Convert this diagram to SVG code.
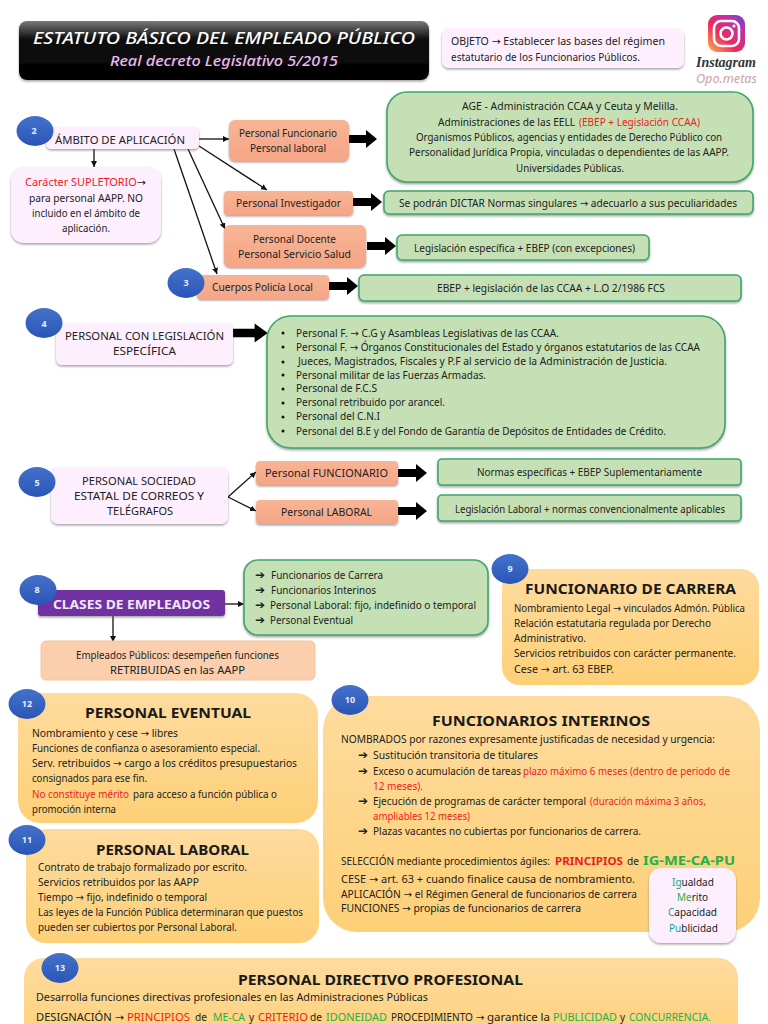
<svg xmlns="http://www.w3.org/2000/svg" width="768" height="1024" viewBox="0 0 768 1024">
<style>
text{font-family:"Noto Sans","DejaVu Sans",sans-serif;font-size:10px;fill:#222}
.r{fill:#f01c1c}.g{fill:#22b04a}.tl{fill:#12a878}
.h{font-size:15px;font-weight:700;fill:#1a1a1a}
.n{font-size:9px;font-weight:700;fill:#e6ecfa;text-anchor:middle}
.bx{filter:url(#sh)}
.green{fill:#c5e0b4;stroke:#3fa76d;stroke-width:1.6}
.pink{fill:#fdeffd}
.sal{fill:url(#sal)}
.peach{fill:#fbcfae;stroke:#f4c4a0;stroke-width:1}
.gold{fill:url(#gold)}
.dot{fill:url(#blue)}
.ln{stroke:#111;stroke-width:1.3;fill:none;marker-end:url(#ah)}
.ar{font-family:"DejaVu Sans",sans-serif;font-size:12px;font-weight:700}
</style>
<defs>
<filter id="sh" x="-5%" y="-10%" width="110%" height="125%"><feDropShadow dx="0" dy="1.5" stdDeviation="1.2" flood-color="#555" flood-opacity=".55"/></filter>
<linearGradient id="sal" x1="0" y1="0" x2="0" y2="1"><stop offset="0" stop-color="#f7b595"/><stop offset="1" stop-color="#f5a586"/></linearGradient>
<linearGradient id="gold" x1="0" y1="0" x2="0" y2="1"><stop offset="0" stop-color="#fedb9e"/><stop offset="1" stop-color="#fdd078"/></linearGradient>
<linearGradient id="blue" x1="0" y1="0" x2="0" y2="1"><stop offset="0" stop-color="#4472c9"/><stop offset="1" stop-color="#2a55b8"/></linearGradient>
<linearGradient id="blk" x1="0" y1="0" x2="0" y2="1"><stop offset="0" stop-color="#7a7a7a"/><stop offset=".3" stop-color="#111"/><stop offset="1" stop-color="#000"/></linearGradient>
<linearGradient id="ig" x1="0" y1="1" x2="1" y2="0"><stop offset="0" stop-color="#fdb348"/><stop offset=".4" stop-color="#ee2a5c"/><stop offset=".75" stop-color="#c02fa8"/><stop offset="1" stop-color="#5b4fd0"/></linearGradient>
<marker id="ah" markerUnits="userSpaceOnUse" markerWidth="7" markerHeight="7" refX="6" refY="3" orient="auto"><path d="M0,0 L6,3 L0,6Z" fill="#111"/></marker>
<path id="block" d="M0,-4 H18 V-9 L29,0 L18,9 V4 H0Z" fill="#000"/>
</defs>
<rect width="768" height="1024" fill="#fff"/>

<g id="title"><rect class="bx" x="19" y="21" width="410" height="59" rx="8" fill="url(#blk)"/>
<text x="33" y="44" textLength="382" lengthAdjust="spacingAndGlyphs" style="font-size:17px;font-style:italic;fill:#fff;font-weight:500">ESTATUTO BÁSICO DEL EMPLEADO PÚBLICO</text>
<text x="110" y="66" textLength="228" lengthAdjust="spacingAndGlyphs" style="font-size:14.5px;font-style:italic;fill:#eab9ee;font-weight:500">Real decreto Legislativo 5/2015</text></g>

<g id="objeto"><rect class="bx pink" x="442" y="28" width="242" height="40" rx="7"/>
<text x="451" y="45" textLength="214" lengthAdjust="spacingAndGlyphs">OBJETO → Establecer las bases del régimen</text>
<text x="451" y="61" textLength="189" lengthAdjust="spacingAndGlyphs">estatutario de los Funcionarios Públicos.</text></g>

<g id="instagram"><rect x="708" y="15" width="37" height="37" rx="9" fill="url(#ig)"/>
<rect x="714" y="21" width="25" height="25" rx="7" fill="none" stroke="#fff" stroke-width="2.6"/>
<circle cx="726.5" cy="33.5" r="6" fill="none" stroke="#fff" stroke-width="2.6"/><circle cx="734" cy="26" r="1.6" fill="#fff"/>
<text x="696" y="67" textLength="60" lengthAdjust="spacingAndGlyphs" style="font-family:'Liberation Serif',serif;font-size:15px;font-style:italic;font-weight:700;fill:#333">Instagram</text>
<text x="696" y="83" textLength="61" lengthAdjust="spacingAndGlyphs" style="font-size:13px;font-style:italic;fill:#c9a2ac">Opo.metas</text></g>

<g id="connectors">
<path class="ln" d="M199,139 H229"/><path class="ln" d="M94,149 V167"/><path class="ln" d="M199,146 L267,190"/><path class="ln" d="M188,149 L225,229"/><path class="ln" d="M174,149 L217,274"/>
<path class="ln" d="M228,497 L256,472"/><path class="ln" d="M228,497 L256,511"/><path class="ln" d="M225,604 H244"/><path class="ln" d="M113,616 V642"/>
<use href="#block" x="348" y="139"/><use href="#block" x="353" y="202"/><use href="#block" x="367" y="246"/><use href="#block" x="329" y="286"/>
<use href="#block" transform="translate(233,333) scale(1.2,1.05)"/><use href="#block" x="398" y="473"/><use href="#block" x="398" y="511"/>
</g>

<g id="n-ambito"><rect class="bx pink" x="46" y="127" width="153" height="22" rx="5"/><text x="55" y="144" textLength="130" lengthAdjust="spacingAndGlyphs">ÁMBITO DE APLICACIÓN</text>
<ellipse class="dot" cx="35" cy="131" rx="18.5" ry="15"/><text class="n" x="34" y="134">2</text></g>

<g id="n-supletorio"><rect class="bx pink" x="11" y="167" width="150" height="76" rx="13"/>
<text x="25" y="186" textLength="121" lengthAdjust="spacingAndGlyphs"><tspan class="r">Carácter SUPLETORIO</tspan>→</text>
<text x="29" y="202" textLength="114" lengthAdjust="spacingAndGlyphs">para personal AAPP. NO</text>
<text x="32" y="217" textLength="108" lengthAdjust="spacingAndGlyphs">incluido en el ámbito de</text>
<text x="62" y="232" textLength="48" lengthAdjust="spacingAndGlyphs">aplicación.</text></g>

<g id="n-funcionario"><rect class="bx sal" x="229" y="120" width="120" height="41" rx="6"/><text x="239" y="137" textLength="98" lengthAdjust="spacingAndGlyphs">Personal Funcionario</text><text x="250" y="152" textLength="76" lengthAdjust="spacingAndGlyphs">Personal laboral</text></g>
<g id="n-investigador"><rect class="bx sal" x="224" y="191" width="129" height="24" rx="4"/><text x="236" y="207" textLength="105" lengthAdjust="spacingAndGlyphs">Personal Investigador</text></g>
<g id="n-docente"><rect class="bx sal" x="224" y="225" width="142" height="42" rx="6"/><text x="253" y="243" textLength="83" lengthAdjust="spacingAndGlyphs">Personal Docente</text><text x="238" y="258" textLength="113" lengthAdjust="spacingAndGlyphs">Personal Servicio Salud</text></g>
<g id="n-policia"><rect class="bx sal" x="197" y="275" width="132" height="24" rx="4"/><text x="212" y="291" textLength="101" lengthAdjust="spacingAndGlyphs">Cuerpos Policía Local</text>
<ellipse class="dot" cx="186" cy="283" rx="18.5" ry="15"/><text class="n" x="186" y="286">3</text></g>

<g id="n-age"><rect class="bx green" x="387" y="92" width="366" height="90" rx="20"/>
<text x="462" y="110" textLength="216" lengthAdjust="spacingAndGlyphs">AGE -  Administración CCAA y Ceuta y Melilla.</text>
<text x="438" y="126"><tspan textLength="137" lengthAdjust="spacingAndGlyphs">Administraciones de las EELL</tspan><tspan class="r" x="579" textLength="121" lengthAdjust="spacingAndGlyphs">(EBEP + Legislación CCAA)</tspan></text>
<text x="416" y="141" textLength="306" lengthAdjust="spacingAndGlyphs">Organismos Públicos, agencias y entidades de Derecho Público con</text>
<text x="409" y="156" textLength="320" lengthAdjust="spacingAndGlyphs">Personalidad Jurídica Propia, vinculadas o dependientes de las AAPP.</text>
<text x="516" y="172" textLength="108" lengthAdjust="spacingAndGlyphs">Universidades Públicas.</text></g>
<g id="n-dictar"><rect class="bx green" x="384" y="191" width="369" height="23" rx="5"/><text x="399" y="207" textLength="338" lengthAdjust="spacingAndGlyphs">Se podrán DICTAR Normas singulares → adecuarlo a sus peculiaridades</text></g>
<g id="n-legesp"><rect class="bx green" x="397" y="235" width="252" height="25" rx="5"/><text x="414" y="252" textLength="221" lengthAdjust="spacingAndGlyphs">Legislación específica + EBEP (con excepciones)</text></g>
<g id="n-fcs"><rect class="bx green" x="359" y="275" width="382" height="26" rx="5"/><text x="437" y="292" textLength="228" lengthAdjust="spacingAndGlyphs">EBEP + legislación de las CCAA + L.O 2/1986 FCS</text></g>

<g id="n-4"><rect class="bx pink" x="56" y="323" width="177" height="42" rx="6"/><text x="65" y="340" textLength="159" lengthAdjust="spacingAndGlyphs">PERSONAL CON LEGISLACIÓN</text><text x="113" y="355" textLength="63" lengthAdjust="spacingAndGlyphs">ESPECÍFICA</text>
<ellipse class="dot" cx="44" cy="323" rx="18.5" ry="15"/><text class="n" x="44" y="327">4</text></g>
<g id="n-lista"><rect class="bx green" x="267" y="316" width="458" height="132" rx="24"/>
<g fill="#111"><circle cx="283" cy="333" r="1.5"/><circle cx="283" cy="347" r="1.5"/><circle cx="283" cy="362" r="1.5"/><circle cx="283" cy="375" r="1.5"/><circle cx="283" cy="389" r="1.5"/><circle cx="283" cy="403" r="1.5"/><circle cx="283" cy="417" r="1.5"/><circle cx="283" cy="431" r="1.5"/></g>
<text x="296" y="337" textLength="263" lengthAdjust="spacingAndGlyphs">Personal F. → C.G y Asambleas Legislativas de las CCAA.</text>
<text x="296" y="351" textLength="404" lengthAdjust="spacingAndGlyphs">Personal F. → Órganos Constitucionales del Estado y órganos estatutarios de las CCAA</text>
<text x="298" y="365" textLength="369" lengthAdjust="spacingAndGlyphs">Jueces, Magistrados, Fiscales y P.F al servicio de la Administración de Justicia.</text>
<text x="296" y="379" textLength="190" lengthAdjust="spacingAndGlyphs">Personal militar de las Fuerzas Armadas.</text>
<text x="296" y="392" textLength="81" lengthAdjust="spacingAndGlyphs">Personal de F.C.S</text>
<text x="296" y="406" textLength="149" lengthAdjust="spacingAndGlyphs">Personal retribuido por arancel.</text>
<text x="296" y="420" textLength="84" lengthAdjust="spacingAndGlyphs">Personal del C.N.I</text>
<text x="296" y="435" textLength="370" lengthAdjust="spacingAndGlyphs">Personal del B.E y del Fondo de Garantía de Depósitos de Entidades de Crédito.</text></g>

<g id="n-5"><rect class="bx pink" x="51" y="467" width="177" height="57" rx="7"/>
<text x="82" y="485" textLength="114" lengthAdjust="spacingAndGlyphs">PERSONAL SOCIEDAD</text><text x="74" y="500" textLength="130" lengthAdjust="spacingAndGlyphs">ESTATAL DE CORREOS Y</text><text x="107" y="515" textLength="66" lengthAdjust="spacingAndGlyphs">TELÉGRAFOS</text>
<ellipse class="dot" cx="37" cy="482" rx="18.5" ry="15"/><text class="n" x="37" y="486">5</text></g>
<g id="n-pf"><rect class="bx sal" x="256" y="461" width="142" height="24" rx="4"/><text x="265" y="477" textLength="123" lengthAdjust="spacingAndGlyphs">Personal FUNCIONARIO</text></g>
<g id="n-pl"><rect class="bx sal" x="256" y="500" width="142" height="24" rx="4"/><text x="281" y="516" textLength="91" lengthAdjust="spacingAndGlyphs">Personal LABORAL</text></g>
<g id="n-normas"><rect class="bx green" x="438" y="459" width="303" height="26" rx="4"/><text x="477" y="476" textLength="225" lengthAdjust="spacingAndGlyphs">Normas específicas + EBEP Suplementariamente</text></g>
<g id="n-leglab"><rect class="bx green" x="438" y="495" width="303" height="26" rx="4"/><text x="455" y="513" textLength="270" lengthAdjust="spacingAndGlyphs">Legislación Laboral + normas convencionalmente aplicables</text></g>

<g id="n-8"><rect class="bx" x="38" y="590" width="187" height="26" rx="3" fill="#7030a0"/><text x="53" y="609" textLength="157" lengthAdjust="spacingAndGlyphs" style="font-size:13px;font-weight:700;fill:#f3e6f8">CLASES DE EMPLEADOS</text>
<ellipse class="dot" cx="38" cy="590" rx="18.5" ry="15"/><text class="n" x="37" y="593">8</text></g>
<g id="n-clases"><rect class="bx green" x="244" y="560" width="244" height="75" rx="14"/>
<text class="ar" x="255" y="579">➔</text><text class="ar" x="255" y="594">➔</text><text class="ar" x="255" y="609">➔</text><text class="ar" x="255" y="624">➔</text>
<text x="271" y="579" textLength="112" lengthAdjust="spacingAndGlyphs">Funcionarios de Carrera</text>
<text x="271" y="594" textLength="105" lengthAdjust="spacingAndGlyphs">Funcionarios Interinos</text>
<text x="270" y="609" textLength="206" lengthAdjust="spacingAndGlyphs">Personal Laboral: fijo, indefinido o temporal</text>
<text x="270" y="624" textLength="83" lengthAdjust="spacingAndGlyphs">Personal Eventual</text></g>
<g id="n-empleados"><rect class="peach" x="41" y="641" width="274" height="39" rx="5"/><text x="76" y="659" textLength="203" lengthAdjust="spacingAndGlyphs">Empleados Públicos: desempeñen funciones</text><text x="110" y="674" textLength="135" lengthAdjust="spacingAndGlyphs">RETRIBUIDAS en las AAPP</text></g>

<g id="n-9"><rect class="gold" x="502" y="569" width="257" height="116" rx="18"/>
<text class="h" x="525" y="594" textLength="211" lengthAdjust="spacingAndGlyphs">FUNCIONARIO DE CARRERA</text>
<text x="514" y="612" textLength="231" lengthAdjust="spacingAndGlyphs">Nombramiento Legal → vinculados Admón. Pública</text>
<text x="514" y="627" textLength="197" lengthAdjust="spacingAndGlyphs">Relación estatutaria regulada por Derecho</text>
<text x="514" y="642" textLength="72" lengthAdjust="spacingAndGlyphs">Administrativo.</text>
<text x="514" y="657" textLength="222" lengthAdjust="spacingAndGlyphs">Servicios retribuidos con carácter permanente.</text>
<text x="514" y="673" textLength="100" lengthAdjust="spacingAndGlyphs">Cese → art. 63 EBEP.</text>
<ellipse class="dot" cx="510" cy="569" rx="18.5" ry="15"/><text class="n" x="510" y="572">9</text></g>

<g id="n-12"><rect class="gold" x="18" y="693" width="300" height="130" rx="22"/>
<text class="h" x="85" y="718" textLength="166" lengthAdjust="spacingAndGlyphs">PERSONAL EVENTUAL</text>
<text x="32" y="737" textLength="146" lengthAdjust="spacingAndGlyphs">Nombramiento y cese → libres</text>
<text x="32" y="752" textLength="228" lengthAdjust="spacingAndGlyphs">Funciones de confianza o asesoramiento especial.</text>
<text x="32" y="767" textLength="265" lengthAdjust="spacingAndGlyphs">Serv. retribuidos → cargo a los créditos presupuestarios</text>
<text x="32" y="782" textLength="115" lengthAdjust="spacingAndGlyphs">consignados para ese fin.</text>
<text x="32" y="798"><tspan class="r" textLength="97" lengthAdjust="spacingAndGlyphs">No constituye mérito</tspan><tspan x="133" textLength="144" lengthAdjust="spacingAndGlyphs">para acceso a función pública o</tspan></text>
<text x="32" y="813" textLength="84" lengthAdjust="spacingAndGlyphs">promoción interna</text>
<ellipse class="dot" cx="27" cy="704" rx="18.5" ry="15"/><text class="n" x="27" y="707">12</text></g>

<g id="n-11"><rect class="gold" x="26" y="829" width="293" height="114" rx="20"/>
<text class="h" x="96" y="855" textLength="153" lengthAdjust="spacingAndGlyphs">PERSONAL LABORAL</text>
<text x="38" y="871" textLength="209" lengthAdjust="spacingAndGlyphs">Contrato de trabajo formalizado por escrito.</text>
<text x="38" y="886" textLength="161" lengthAdjust="spacingAndGlyphs">Servicios retribuidos por las AAPP</text>
<text x="38" y="901" textLength="169" lengthAdjust="spacingAndGlyphs">Tiempo → fijo, indefinido o temporal</text>
<text x="38" y="916" textLength="265" lengthAdjust="spacingAndGlyphs">Las leyes de la Función Pública determinaran que puestos</text>
<text x="38" y="931" textLength="199" lengthAdjust="spacingAndGlyphs">pueden ser cubiertos por Personal Laboral.</text>
<ellipse class="dot" cx="27" cy="840" rx="18.5" ry="15"/><text class="n" x="27" y="843">11</text></g>

<g id="n-10"><rect class="gold" x="323" y="696" width="437" height="236" rx="34"/>
<text class="h" x="432" y="726" textLength="218" lengthAdjust="spacingAndGlyphs">FUNCIONARIOS INTERINOS</text>
<text x="341" y="743" textLength="374" lengthAdjust="spacingAndGlyphs">NOMBRADOS por razones expresamente justificadas de necesidad y urgencia:</text>
<text class="ar" x="358" y="759">➔</text><text class="ar" x="358" y="775">➔</text><text class="ar" x="358" y="805">➔</text><text class="ar" x="358" y="835">➔</text>
<text x="373" y="759" textLength="165" lengthAdjust="spacingAndGlyphs">Sustitución transitoria de titulares</text>
<text x="373" y="775"><tspan textLength="148" lengthAdjust="spacingAndGlyphs">Exceso o acumulación de tareas</tspan><tspan class="r" x="523" textLength="207" lengthAdjust="spacingAndGlyphs">plazo máximo 6 meses (dentro de periodo de</tspan></text>
<text class="r" x="373" y="790" textLength="50" lengthAdjust="spacingAndGlyphs">12 meses).</text>
<text x="373" y="805"><tspan textLength="213" lengthAdjust="spacingAndGlyphs">Ejecución de programas de carácter temporal</tspan><tspan class="r" x="590" textLength="116" lengthAdjust="spacingAndGlyphs">(duración máxima 3 años,</tspan></text>
<text class="r" x="373" y="820" textLength="97" lengthAdjust="spacingAndGlyphs">ampliables 12 meses)</text>
<text x="373" y="835" textLength="268" lengthAdjust="spacingAndGlyphs">Plazas vacantes no cubiertas por funcionarios de carrera.</text>
<text x="341" y="865"><tspan textLength="209" lengthAdjust="spacingAndGlyphs">SELECCIÓN mediante procedimientos ágiles:</tspan><tspan class="r" x="555" font-weight="700" textLength="68" lengthAdjust="spacingAndGlyphs">PRINCIPIOS</tspan><tspan x="627" textLength="12" lengthAdjust="spacingAndGlyphs">de</tspan><tspan class="g" x="643" font-weight="700" style="font-size:13px" textLength="92" lengthAdjust="spacingAndGlyphs">IG-ME-CA-PU</tspan></text>
<text x="341" y="883" textLength="294" lengthAdjust="spacingAndGlyphs">CESE → art. 63 + cuando finalice causa de nombramiento.</text>
<text x="341" y="898" textLength="296" lengthAdjust="spacingAndGlyphs">APLICACIÓN → el Régimen General de funcionarios de carrera</text>
<text x="341" y="912" textLength="240" lengthAdjust="spacingAndGlyphs">FUNCIONES → propias de funcionarios de carrera</text>
<ellipse class="dot" cx="350" cy="700" rx="18.5" ry="15"/><text class="n" x="350" y="703">10</text></g>

<g id="n-igualdad"><rect class="bx pink" x="649" y="868" width="87" height="75" rx="12"/>
<text x="672" y="886"><tspan class="tl">Ig</tspan>ualdad</text>
<text x="677" y="901"><tspan class="g">Me</tspan>rito</text>
<text x="668" y="916"><tspan class="tl">C</tspan>apacidad</text>
<text x="669" y="932"><tspan class="tl">Pu</tspan>blicidad</text></g>

<g id="n-13"><rect class="gold" x="24" y="958" width="714" height="90" rx="20"/>
<text class="h" x="238" y="985" textLength="285" lengthAdjust="spacingAndGlyphs">PERSONAL DIRECTIVO PROFESIONAL</text>
<text x="36" y="1001" textLength="392" lengthAdjust="spacingAndGlyphs">Desarrolla funciones directivas profesionales en las Administraciones Públicas</text>
<text x="36" y="1021"><tspan textLength="88" lengthAdjust="spacingAndGlyphs">DESIGNACIÓN →</tspan><tspan class="r" x="127" textLength="63" lengthAdjust="spacingAndGlyphs">PRINCIPIOS</tspan><tspan x="195" textLength="12" lengthAdjust="spacingAndGlyphs">de</tspan><tspan class="g" x="213" textLength="32" lengthAdjust="spacingAndGlyphs">ME-CA</tspan><tspan x="249">y</tspan><tspan class="r" x="258" textLength="50" lengthAdjust="spacingAndGlyphs">CRITERIO</tspan><tspan x="310" textLength="12" lengthAdjust="spacingAndGlyphs">de</tspan><tspan class="g" x="326" textLength="61" lengthAdjust="spacingAndGlyphs">IDONEIDAD</tspan><tspan x="391" textLength="82" lengthAdjust="spacingAndGlyphs">PROCEDIMIENTO</tspan><tspan x="476">→</tspan><tspan x="487" textLength="63" lengthAdjust="spacingAndGlyphs">garantice la</tspan><tspan class="g" x="553" textLength="64" lengthAdjust="spacingAndGlyphs">PUBLICIDAD</tspan><tspan x="620">y</tspan><tspan class="g" x="629" textLength="82" lengthAdjust="spacingAndGlyphs">CONCURRENCIA.</tspan></text>
<ellipse class="dot" cx="60" cy="968" rx="18.5" ry="15"/><text class="n" x="60" y="971">13</text></g>
</svg>
